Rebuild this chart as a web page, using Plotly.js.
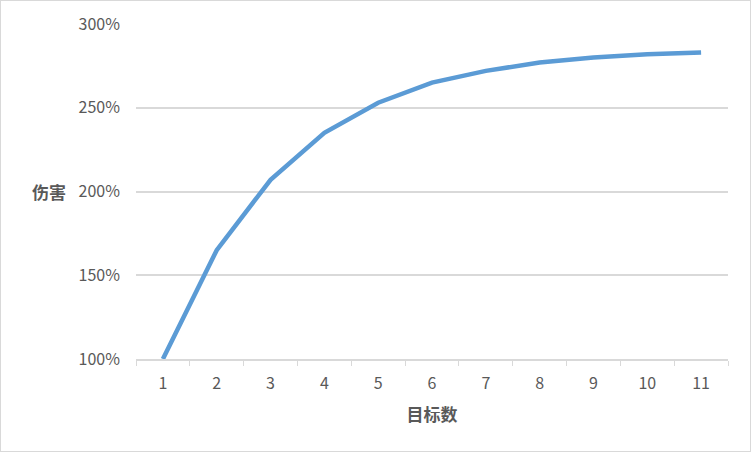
<!DOCTYPE html>
<html>
<head>
<meta charset="utf-8">
<script src="https://cdn.plot.ly/plotly-3.0.1.min.js"></script>
<style>
  body { margin: 0; background: #ffffff; }
  #chart { width: 749px; height: 450px; border: 1px solid #d9d9d9; }
</style>
</head>
<body>
<div id="chart"></div>
<script>
// target count vs. damage multiplier (%)
const targets = ['1', '2', '3', '4', '5', '6', '7', '8', '9', '10', '11'];
const damage = [100, 165, 207, 235, 253, 265, 272, 277, 280, 282, 283];
const yTicks = [100, 150, 200, 250, 300];
const yTickText = ['100%', '150%', '200%', '250%', '300%'];

const textColor = '#595959';
const font = 'Noto Sans CJK SC, Microsoft YaHei, sans-serif';

const trace = {
    x: targets,
    y: damage,
    type: 'scatter',
    mode: 'lines',
    line: { color: '#5b9bd5', width: 4.5 },
    hoverinfo: 'x+y'
};

const layout = {
    width: 749,
    height: 450,
    margin: { l: 135, r: 22, t: 23, b: 92 },
    paper_bgcolor: 'white',
    plot_bgcolor: 'white',
    showlegend: false,
    font: { family: font, color: textColor, size: 16 },
    xaxis: {
        type: 'category',
        range: [-0.5, targets.length - 0.5],
        tickson: 'boundaries',
        ticks: 'outside',
        ticklen: 5,
        tickcolor: '#d9d9d9',
        showline: true,
        linecolor: '#d9d9d9',
        linewidth: 1.5,
        showgrid: false,
        zeroline: false,
        ticklabelstandoff: 9,
        tickfont: { size: 16, color: textColor },
        title: { text: '<b>目标数</b>', font: { size: 17, color: textColor }, standoff: 16 }
    },
    yaxis: {
        range: [100, 300],
        tickvals: yTicks,
        ticktext: yTickText,
        showgrid: true,
        gridcolor: '#d9d9d9',
        gridwidth: 1.5,
        zeroline: false,
        showline: false,
        ticklabelstandoff: 15,
        tickfont: { size: 16, color: textColor }
    },
    annotations: [{
        text: '<b>伤害</b>',
        xref: 'paper', yref: 'paper',
        x: -0.115, y: 0.5,
        xanchor: 'right', yanchor: 'middle',
        showarrow: false,
        font: { size: 17, color: textColor }
    }]
};

Plotly.newPlot('chart', [trace], layout, { displayModeBar: false });
</script>
</body>
</html>
